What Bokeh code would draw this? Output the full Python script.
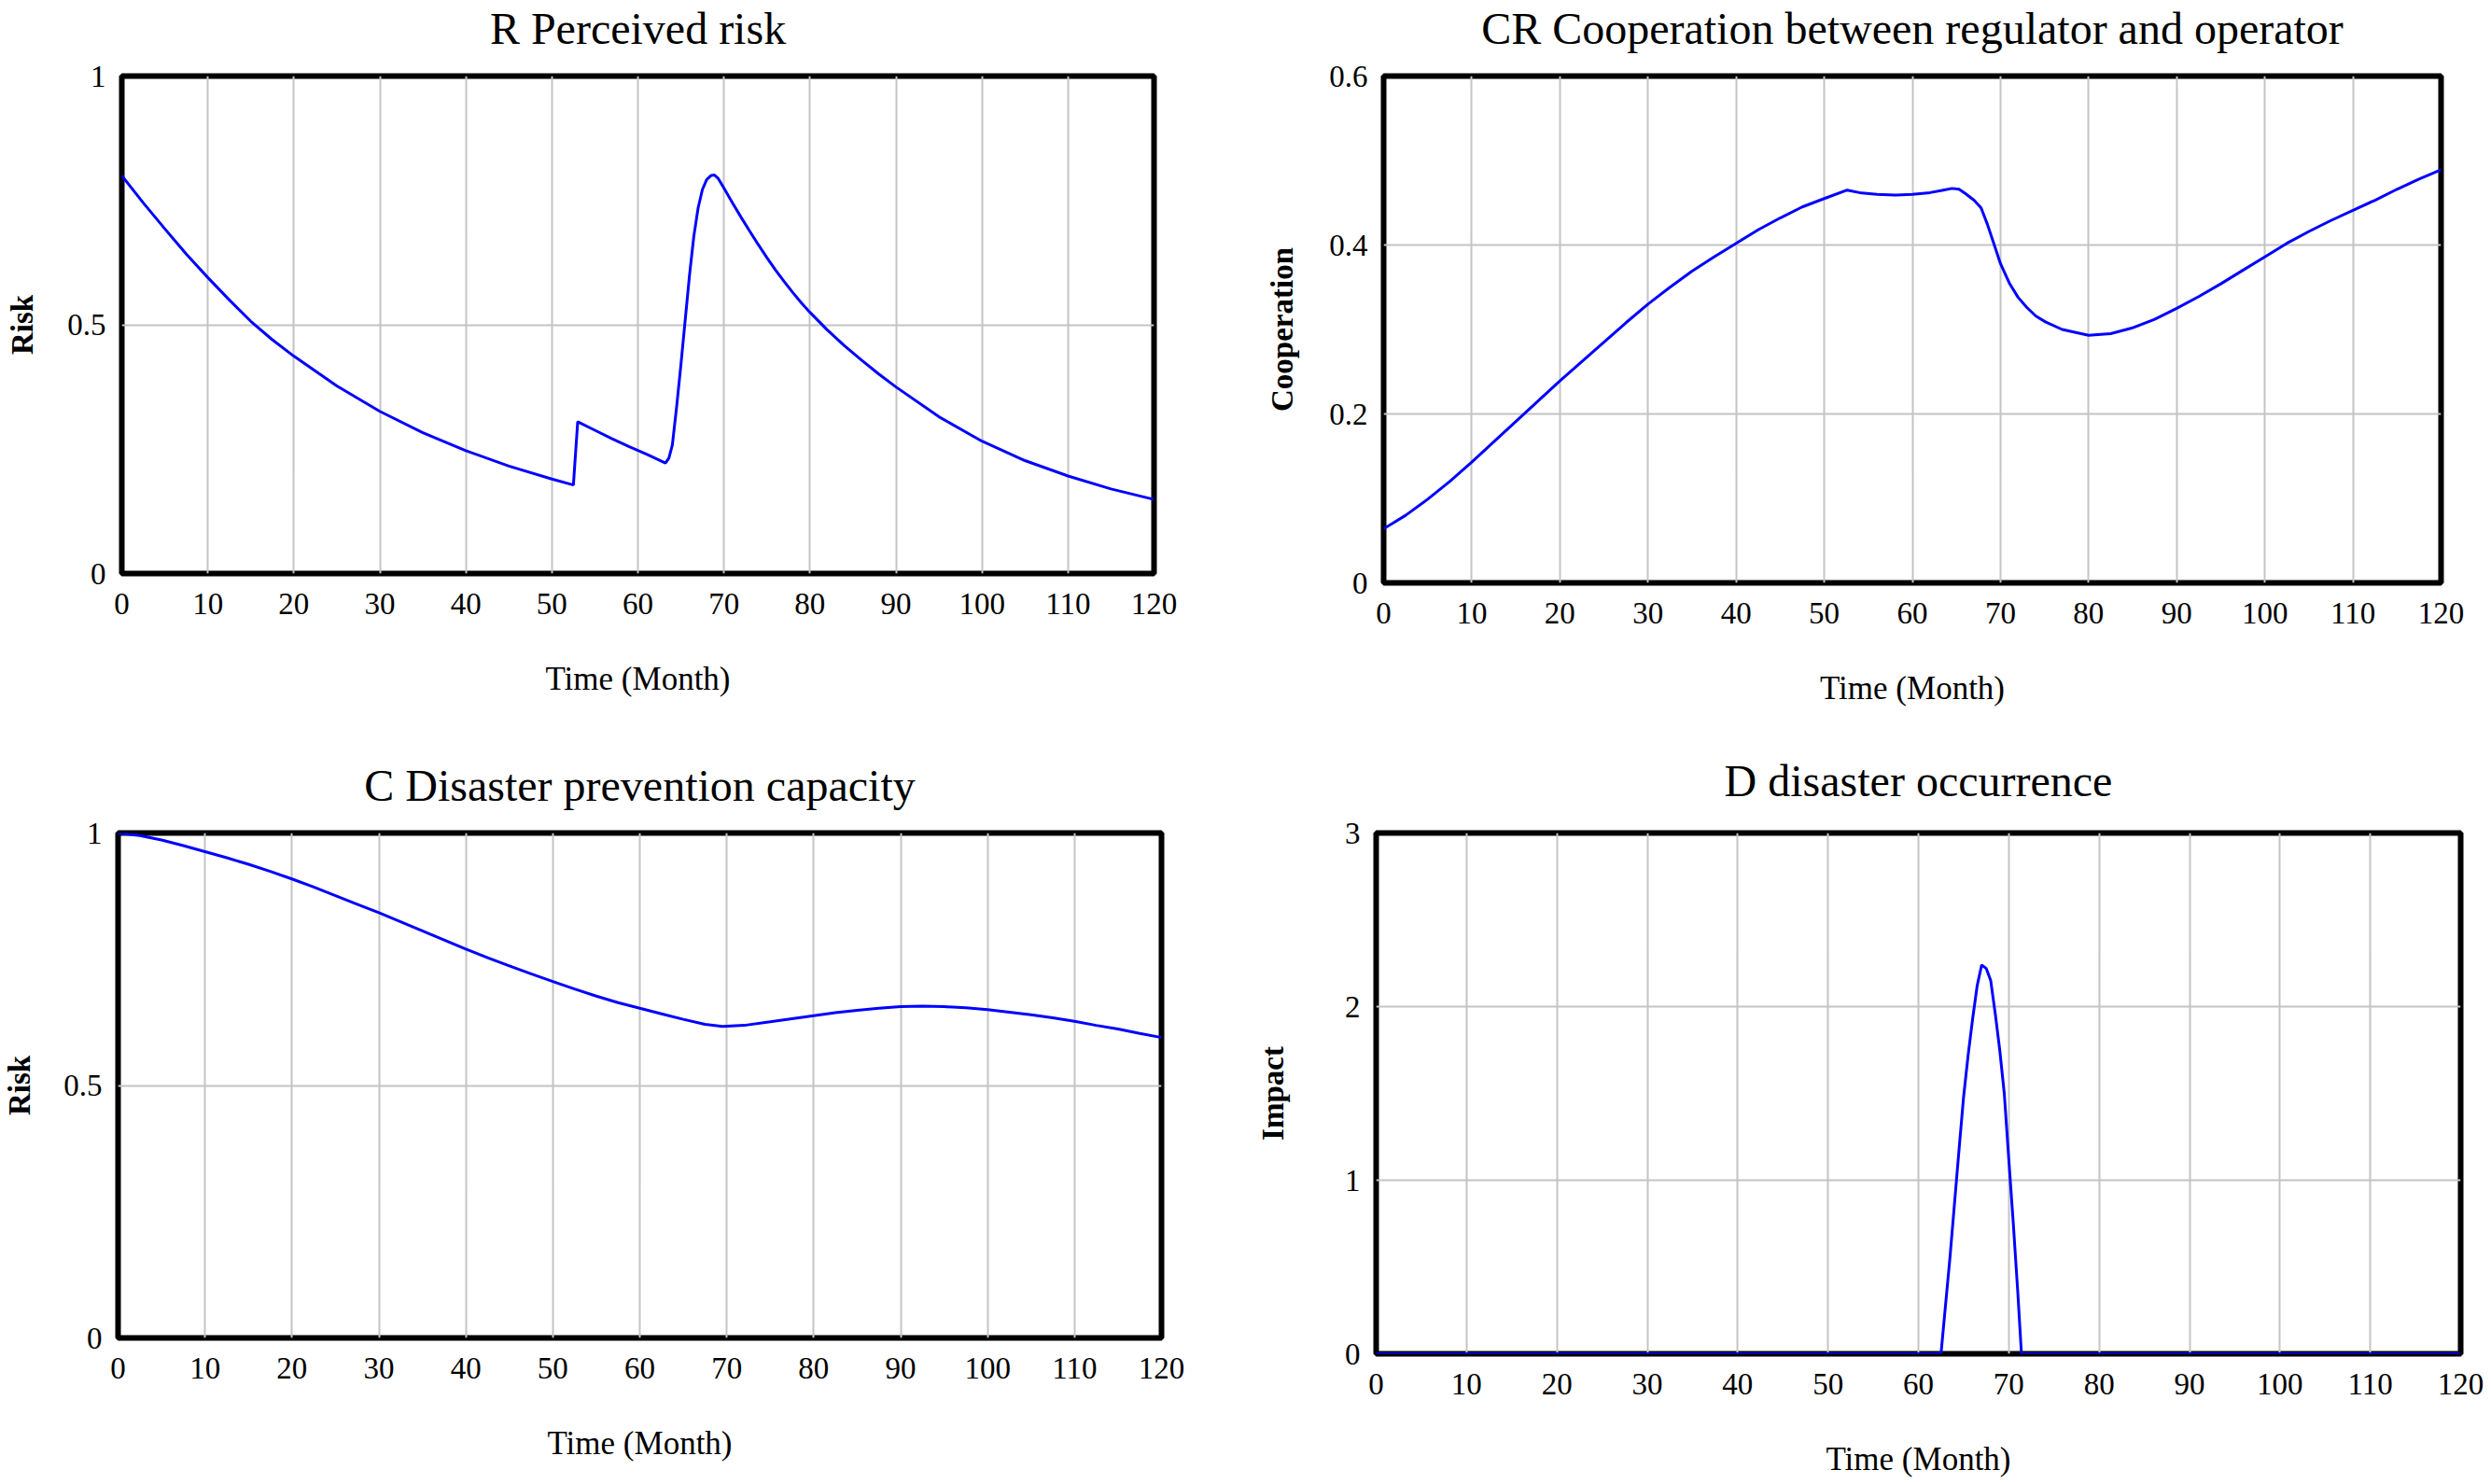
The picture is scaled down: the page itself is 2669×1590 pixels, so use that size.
from bokeh.plotting import figure
from bokeh.layouts import column, row
from bokeh.models import Range1d, FixedTicker, LinearAxis
from bokeh.embed import file_html
from bokeh.resources import INLINE

# ---------------- data ----------------
x_ticks = list(range(0, 121, 10))

# R Perceived risk
r_time = [0, 2.5, 5, 7.5, 10, 12.5, 15, 17.5, 20, 25, 30, 35, 40, 45, 50, 52.5,
          53, 55, 57, 59, 61, 63.2, 63.6, 64, 64.5, 65, 65.5, 66, 66.5, 67,
          67.5, 68, 68.5, 68.9, 69.3, 70, 71, 72, 73, 74, 75, 76, 77, 78, 79,
          80, 82, 84, 86, 88, 90, 95, 100, 105, 110, 115, 120]
r_vals = [0.800, 0.745, 0.693, 0.642, 0.595, 0.550, 0.507, 0.470, 0.437, 0.377,
          0.326, 0.283, 0.247, 0.216, 0.190, 0.178,
          0.305, 0.288, 0.271, 0.255, 0.240, 0.222, 0.232, 0.258, 0.335, 0.420,
          0.510, 0.600, 0.678, 0.735, 0.772, 0.792, 0.800, 0.801, 0.795, 0.775,
          0.745, 0.716, 0.688, 0.661, 0.635, 0.610, 0.587, 0.565, 0.544,
          0.525, 0.490, 0.458, 0.429, 0.401, 0.375, 0.315, 0.266, 0.227, 0.196,
          0.170, 0.149]

# CR Cooperation between regulator and operator
cr_time = [0, 2.5, 5, 7.5, 10, 12.5, 15, 17.5, 20, 22.5, 25, 27.5, 30, 32.5, 35,
           37.5, 40, 42.5, 45, 47.5, 50, 52.6, 54, 56, 58, 60, 62, 63.5, 64.5,
           65.3, 66, 67, 67.8, 68.5, 69.3, 70, 71, 72, 73, 74, 75.1, 77, 80,
           82.5, 85, 87.5, 90, 92.5, 95, 97.5, 100, 102.5, 105, 107.5, 110,
           112.5, 115, 117.5, 120]
cr_vals = [0.064, 0.080, 0.099, 0.120, 0.143, 0.167, 0.191, 0.215, 0.239, 0.262,
           0.285, 0.308, 0.330, 0.350, 0.369, 0.386, 0.402, 0.418, 0.432, 0.445,
           0.455, 0.465, 0.462, 0.460, 0.459, 0.460, 0.462, 0.465, 0.467,
           0.466, 0.461, 0.453, 0.444, 0.425, 0.400, 0.378, 0.355, 0.338, 0.326,
           0.316, 0.309, 0.300, 0.293,
           0.295, 0.302, 0.312, 0.325, 0.339, 0.354, 0.370, 0.386, 0.402, 0.416,
           0.429, 0.441, 0.453, 0.466, 0.478, 0.489]

# C Disaster prevention capacity
c_time = [0, 2.5, 5, 7.5, 10, 12.5, 15, 17.5, 20, 22.5, 25, 27.5, 30, 32.5, 35,
          37.5, 40, 42.5, 45, 47.5, 50, 52.5, 55, 57.5, 60, 62.5, 65, 67.5, 69.5,
          72, 75, 77.5, 80, 82.5, 85, 87.5, 90, 92.5, 95, 97.5, 100, 102.5, 105,
          107.5, 110, 112.5, 115, 117.5, 120]
c_vals = [1.000, 0.995, 0.986, 0.975, 0.963, 0.951, 0.938, 0.924, 0.909, 0.893,
          0.876, 0.859, 0.842, 0.824, 0.806, 0.788, 0.770, 0.753, 0.737, 0.721,
          0.706, 0.691, 0.677, 0.664, 0.653, 0.642, 0.631, 0.621, 0.617,
          0.619, 0.626, 0.632, 0.638, 0.644, 0.649, 0.653, 0.656, 0.657, 0.656,
          0.654, 0.650, 0.645, 0.640, 0.634, 0.627, 0.619, 0.612, 0.603, 0.595]

# D disaster occurrence
d_time = [0, 62.5, 63, 63.5, 64, 64.5, 65, 65.5, 66, 66.5, 67, 67.5, 68, 68.5,
          69, 69.5, 70, 70.5, 71, 71.4, 120]
d_vals = [0, 0, 0.28, 0.56, 0.87, 1.18, 1.48, 1.72, 1.93, 2.12, 2.24, 2.22,
          2.15, 1.96, 1.75, 1.50, 1.12, 0.75, 0.35, 0, 0]

SERIF = "Liberation Serif"


def panel(title, ylabel, t, v, ymax, yticks, ylabels, width, height,
          bl, br, bt, bb, title_gap, ylab_standoff):
    p = figure(width=width, height=height, title=None,
               x_range=Range1d(0, 120), y_range=Range1d(0, ymax),
               output_backend="svg", toolbar_location=None,
               min_border_left=bl, min_border_right=br,
               min_border_top=bt, min_border_bottom=bb)

    p.line(t, v, line_color="#0000ff", line_width=3)

    p.xaxis.ticker = FixedTicker(ticks=x_ticks)
    p.yaxis.ticker = FixedTicker(ticks=yticks)
    p.yaxis.major_label_overrides = {k: s for k, s in zip(yticks, ylabels)}
    p.xaxis.axis_label = "Time (Month)"
    p.yaxis.axis_label = ylabel

    for ax in (p.xaxis, p.yaxis):
        ax.axis_line_color = None
        ax.major_tick_line_color = None
        ax.minor_tick_line_color = None
        ax.major_tick_out = 0
        ax.major_tick_in = 0
        ax.major_label_text_font = SERIF
        ax.major_label_text_font_size = "33px"
        ax.major_label_text_color = "black"
        ax.axis_label_text_color = "black"
        ax.axis_label_text_font = SERIF

    p.xaxis.major_label_standoff = 21
    p.yaxis.major_label_standoff = 17
    p.xaxis.axis_label_text_font_size = "35px"
    p.xaxis.axis_label_text_font_style = "normal"
    p.xaxis.axis_label_standoff = 47
    p.yaxis.axis_label_text_font_size = "33px"
    p.yaxis.axis_label_text_font_style = "bold"
    p.yaxis.axis_label_standoff = ylab_standoff

    p.xgrid.grid_line_color = "#c4c4c4"
    p.xgrid.grid_line_width = 2
    p.ygrid.grid_line_color = "#c4c4c4"
    p.ygrid.grid_line_width = 2

    p.outline_line_color = "black"
    p.outline_line_width = 6
    p.outline_line_alpha = 1.0
    p.background_fill_color = "white"
    p.border_fill_color = "white"

    # chart title: label of a tick-less axis above the frame, so its distance
    # from the frame is set by the label standoff
    title_axis = LinearAxis(ticker=FixedTicker(ticks=[]), axis_label=title,
                            axis_label_text_font=SERIF,
                            axis_label_text_font_size="48px",
                            axis_label_text_font_style="normal",
                            axis_label_text_color="black",
                            axis_label_standoff=title_gap,
                            major_tick_out=0, major_tick_in=0,
                            major_label_standoff=0, axis_line_color=None,
                            major_tick_line_color=None,
                            minor_tick_line_color=None)
    p.add_layout(title_axis, "above")
    return p


# row 1: equal top/bottom borders, different heights (frames 80-614 / 80-624)
p1 = panel("R Perceived risk", "Risk", r_time, r_vals, 1.0,
           [0, 0.5, 1], ["0", "0.5", "1"],
           1300, 780, 130, 64, 80, 166, 25, 27)
p2 = panel("CR Cooperation between regulator and operator", "Cooperation",
           cr_time, cr_vals, 0.6,
           [0, 0.2, 0.4, 0.6], ["0", "0.2", "0.4", "0.6"],
           1369, 790, 182, 54, 80, 166, 25, 29)
# row 2 starts at 790: frames 892-1433 / 892-1450
p3 = panel("C Disaster prevention capacity", "Risk", c_time, c_vals, 1.0,
           [0, 0.5, 1], ["0", "0.5", "1"],
           1300, 783, 126, 56, 102, 140, 25, 26)
p4 = panel("D disaster occurrence", "Impact", d_time, d_vals, 3.0,
           [0, 1, 2, 3], ["0", "1", "2", "3"],
           1369, 800, 174, 33, 102, 140, 30, 56)

layout = column(row(p1, p2, spacing=0), row(p3, p4, spacing=0), spacing=0)

open("out.html", "w").write(file_html(layout, INLINE))
